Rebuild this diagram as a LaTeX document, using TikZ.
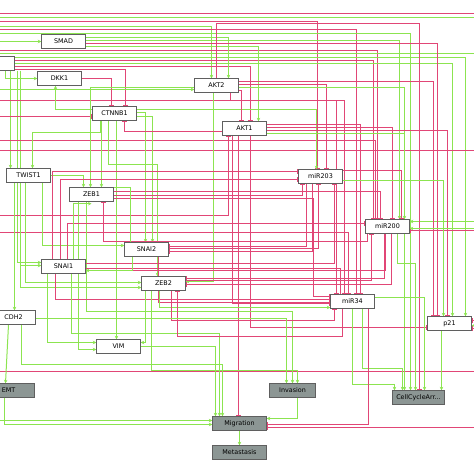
\documentclass[tikz,border=0pt]{standalone}
\usepackage{fontspec}
\setmainfont{DejaVu Sans}
\usetikzlibrary{arrows.meta,positioning,backgrounds}
\definecolor{actgreen}{RGB}{140,228,80}
\definecolor{inhred}{RGB}{225,70,118}
\definecolor{outgray}{RGB}{140,150,148}
\definecolor{boxline}{RGB}{95,95,95}

\begin{document}
\begin{tikzpicture}[
        x=1pt, y=-1pt, shift={(0.5,0.5)},
        gene/.style={rectangle, draw=boxline, fill=white, minimum width=44pt, minimum height=14pt, inner sep=0pt, font=\fontsize{6.4}{7}\selectfont},
        outcome/.style={gene, fill=outgray},
        act/.style={draw=actgreen, line width=1pt, -{Stealth[length=3.5pt,width=3.5pt]}},
        inh/.style={draw=inhred, line width=1pt, -{Bar[width=4.5pt,line width=1.5pt]}}
    ]
    \useasboundingbox (-0.5,-0.5) rectangle (473.5,473.5);

    % genes
    \node[gene] (ecm) at (-8,63) {};
    \node[gene] (smad) at (63,41) {SMAD};
    \node[gene] (dkk1) at (59,78) {DKK1};
    \node[gene] (ctnnb1) at (114,113) {CTNNB1};
    \node[gene] (akt2) at (216,85) {AKT2};
    \node[gene] (akt1) at (244,128) {AKT1};
    \node[gene] (twist1) at (28,175) {TWIST1};
    \node[gene] (zeb1) at (91,194) {ZEB1};
    \node[gene] (mir203) at (320,176) {miR203};
    \node[gene] (mir200) at (387,226) {miR200};
    \node[gene] (snai2) at (146,249) {SNAI2};
    \node[gene] (snai1) at (63,266) {SNAI1};
    \node[gene] (zeb2) at (163,283) {ZEB2};
    \node[gene] (mir34) at (352,301) {miR34};
    \node[gene] (p21) at (449,323) {p21};
    \node[gene] (cdh2) at (13,317) {CDH2};
    \node[gene] (vim) at (118,346) {VIM};

    % outputs
    \node[outcome, minimum width=52pt] (emt) at (8,390) {EMT};
    \node[outcome, minimum width=46pt] (invasion) at (292,390) {Invasion};
    \node[outcome, minimum width=54pt] (migration) at (239,423) {Migration};
    \node[outcome, minimum width=54pt] (metastasis) at (239,452) {Metastasis};
    \node[outcome, minimum width=52pt] (cca) at (418,397) {CellCycleArr...};

    \begin{scope}[on background layer]
        % long lines from the left source
        \draw[inh] ([xshift=-12pt]ecm.north) |- (0,13) -- (490,13) |- ([yshift=3pt]p21.east);
        \draw[act] ([xshift=-10pt]ecm.north) |- (0,17) -- (490,17) |- ([yshift=-2pt]p21.east);
        \draw[inh] ([xshift=-8pt]ecm.north) |- (0,21) -| ([xshift=-3pt]mir203.north);
        \draw[act] ([xshift=-6pt]ecm.north) |- (0,26) -| ([xshift=-5pt]akt2.north);
        \draw[inh] ([xshift=-4pt]ecm.north) |- (0,29) -| ([xshift=4pt]mir34.north);
        \draw[act] ([xshift=-2pt]ecm.north) |- (0,33) -| ([xshift=-8pt]cca.north);
        \draw[inh] (ecm.north) |- (0,50) -| ([xshift=-10pt]mir200.north);
        \draw[act] ([xshift=2pt]ecm.north) |- (0,53) -- (490,53) |- ([yshift=5pt]mir200.east);
        \draw[act] ([xshift=4pt]ecm.north) |- (smad.west);
        \draw[act] ([yshift=6pt]ecm.east) -| ([xshift=16pt]p21.north);
        \draw[inh] ([yshift=3pt]ecm.east) -| ([xshift=-14pt]mir200.north);
        \draw[act] (ecm.east) -| ([xshift=3pt]p21.north);
        \draw[inh] ([yshift=-3pt]ecm.east) -| ([xshift=6pt]akt1.north);
        \draw[inh] ([yshift=-6pt]ecm.east) -| ([xshift=11pt]ctnnb1.north);
        \draw[act] ([xshift=13pt]ecm.south) |- (dkk1.west);
        \draw[act] ([xshift=18pt]ecm.south) -- ([xshift=-18pt]twist1.north);
        \draw[act] ([xshift=25pt]ecm.south) |- ([yshift=4pt]snai1.west);
        \draw[act] ([xshift=28pt]ecm.south) |- ([yshift=-4pt]zeb2.west);
        \draw[inh] ([xshift=-6pt]ecm.south) |- ([yshift=-3pt]ctnnb1.west);
        \draw[inh] ([xshift=-8pt]ecm.south) |- (0,100) -| ([xshift=-16pt]mir34.north);
        \draw[inh] ([xshift=-9pt]ecm.south) |- (0,140) -| ([xshift=-12pt]mir200.south);
        \draw[inh] ([xshift=-7pt]ecm.south) |- (0,150) -- (490,150) |- ([yshift=-4pt]mir200.east);
        \draw[act] ([xshift=-10pt]ecm.south) |- ([yshift=-4pt]akt2.west);
        \draw[inh] ([xshift=-11pt]ecm.south) |- (0,215) -| ([xshift=-16pt]akt1.south);
        \draw[inh] ([xshift=-13pt]ecm.south) |- (0,232) -| ([xshift=-4pt]mir34.north);
        \draw[inh] ([xshift=-14pt]ecm.south) |- (490,371) |- ([yshift=-5pt]p21.east);
        \draw[act] ([xshift=-16pt]ecm.south) |- ([yshift=3pt]migration.west);
        % SMAD
        \draw[act] ([yshift=4pt]smad.east) -| ([xshift=12pt]akt2.north);
        \draw[act] ([yshift=1pt]smad.east) -| ([xshift=12pt]mir200.north);
        \draw[inh] ([yshift=-2pt]smad.east) -| ([xshift=-12pt]p21.north);
        \draw[act] ([yshift=-5pt]smad.east) -| ([xshift=14pt]akt1.north);
        % DKK1 / CTNNB1
        \draw[inh] (dkk1.east) -| ([xshift=-3pt]ctnnb1.north);
        \draw[act] ([yshift=4pt]ctnnb1.west) -| ([xshift=-4pt]dkk1.south);
        \draw[act] ([yshift=1pt]ctnnb1.east) -| ([xshift=-1pt]snai2.north);
        \draw[act] ([yshift=-3pt]ctnnb1.east) -| ([xshift=6pt]snai2.north);
        \draw[act] ([yshift=4pt]ctnnb1.east) -| ([xshift=-4pt]mir203.north);
        \draw[act] ([xshift=-14pt]ctnnb1.south) -- ++(0,12) -| ([xshift=4pt]twist1.north);
        \draw[act] ([xshift=-13pt]ctnnb1.south) -- ([xshift=10pt]zeb1.north);
        \draw[act] ([xshift=2pt]ctnnb1.south) -- ([xshift=-2pt]vim.north);
        \draw[act] ([xshift=-6pt]ctnnb1.south) -- ++(0,44) -| ([xshift=-6pt]zeb2.north);
        % AKT2 / AKT1
        \draw[inh] (akt2.north) -- ++(0,-55) -| ([xshift=1pt]cca.north);
        \draw[inh] ([yshift=4pt]akt2.east) -| ([xshift=-16pt]p21.north);
        \draw[inh] ([yshift=1pt]akt2.east) -| ([xshift=6pt]mir203.north);
        \draw[act] ([yshift=-2pt]akt2.east) -| ([xshift=17pt]mir200.north);
        \draw[inh] ([yshift=-5pt]akt2.east) -| ([xshift=-3pt]akt1.north);
        \draw[act] ([yshift=-2pt]akt2.west) -| ([xshift=-1pt]zeb1.north);
        \draw[inh] ([xshift=14pt]akt2.south) -- ++(0,8) -| ([xshift=-8pt]mir34.north);
        \draw[act] ([xshift=-3pt]akt2.south) |- ([yshift=2pt]zeb2.east);
        \draw[inh] ([yshift=-3pt]akt1.west) -| ([xshift=10pt]ctnnb1.south);
        \draw[inh] ([yshift=4pt]akt1.east) -| ([xshift=8pt]mir34.north);
        \draw[inh] ([yshift=1pt]akt1.east) -| ([xshift=5pt]mir200.north);
        \draw[inh] ([yshift=-2pt]akt1.east) -| ([xshift=-2pt]p21.north);
        \draw[act] ([yshift=-5pt]akt1.east) -| ([xshift=-14pt]cca.north);
        \draw[inh] ([xshift=-6pt]akt1.south) -- ([xshift=-1pt]migration.north);
        \draw[inh] ([xshift=6pt]akt1.south) |- ([yshift=-4pt]p21.west);
        \draw[inh] ([xshift=-12pt]akt1.south) |- ([yshift=-2pt]mir34.west);
        % TWIST1
        \draw[act] (twist1.east) -| ([xshift=-8pt]zeb1.north);
        \draw[act] ([xshift=-14pt]twist1.south) -- ([xshift=1pt]cdh2.north);
        \draw[act] ([xshift=-8pt]twist1.south) |- ([yshift=1pt]snai1.west);
        \draw[act] ([xshift=-3pt]twist1.south) |- ([yshift=1pt]zeb2.west);
        \draw[act] ([xshift=14pt]twist1.south) |- ([yshift=4pt]snai2.west);
        % ZEB1
        \draw[inh] ([yshift=3pt]zeb1.east) -| ([xshift=-7pt]mir200.north);
        \draw[inh] ([yshift=-1pt]zeb1.east) -| ([xshift=-18pt]mir203.south);
        \draw[inh] ([yshift=-4pt]zeb1.east) -- ++(200,0) |- ([yshift=5pt]mir34.west);
        \draw[act] ([xshift=-13pt]zeb1.south) |- ([yshift=-3pt]vim.west);
        \draw[act] ([xshift=-5pt]zeb1.south) -- ++(0,110) -| (invasion.north);
        \draw[inh] ([xshift=-20pt]mir200.south) -- ++(0,8) -| ([xshift=12pt]zeb1.south);
        % miR203 / miR200
        \draw[inh] ([yshift=3pt]snai1.east) -| ([xshift=14pt]mir203.south);
        \draw[inh] ([xshift=-14pt]mir203.south) |- ([yshift=3pt]snai2.east);
        \draw[inh] ([xshift=-8pt]mir203.south) |- ([yshift=-2pt]snai2.east);
        \draw[inh] ([xshift=-3pt]mir200.south) |- ([yshift=5pt]zeb2.east);
        \draw[inh] ([xshift=4pt]mir200.south) |- ([yshift=-1pt]zeb2.east);
        \draw[inh] ([yshift=1pt]snai2.east) -| ([xshift=-2pt]mir203.south);
        \draw[inh] ([yshift=3pt]zeb2.east) -| ([xshift=-16pt]mir200.south);
        \draw[act] ([yshift=-2pt]p21.east) -- ++(8,0) |- ([yshift=-2pt]mir200.east);
        \draw[act] ([xshift=10pt]mir200.south) -- ++(0,30) -| ([xshift=-3pt]cca.north);
        \draw[inh] ([yshift=6pt]mir203.east) -| ([xshift=14pt]mir200.north);
        \draw[act] ([yshift=-4pt]mir203.east) -| ([xshift=-6pt]p21.north);
        % SNAI1 / SNAI2 / ZEB2
        \draw[inh] ([xshift=-11pt]snai1.north) |- ([yshift=5pt]mir203.west);
        \draw[inh] ([xshift=-3pt]snai1.north) |- ([yshift=-3pt]mir203.west);
        \draw[inh] ([xshift=4pt]snai1.north) |- ([yshift=3pt]mir200.west);
        \draw[act] ([xshift=10pt]snai1.north) |- ([yshift=-2pt]zeb1.south);
        \draw[inh] ([yshift=-2pt]snai1.east) -| ([xshift=-12pt]mir34.south);
        \draw[inh] ([xshift=-8pt]snai1.south) |- ([yshift=2pt]mir34.west);
        \draw[act] ([xshift=-16pt]snai1.south) |- ([yshift=4pt]vim.west);
        \draw[act] ([xshift=8pt]snai1.south) -- ++(0,60) -| ([xshift=-20pt]migration.north);
        \draw[inh] ([yshift=-4pt]snai1.east) -- ++(300,0) |- ([yshift=-3pt]mir200.west);
        \draw[act] ([xshift=-14pt]snai2.south) |- ([yshift=-4pt]snai1.east);
        \draw[inh] ([xshift=12pt]snai2.south) |- ([yshift=-1pt]mir34.west);
        \draw[act] ([xshift=-16pt]snai2.north) -- ++(0,-55) -| ([xshift=-8pt]zeb1.south);
        \draw[act] ([xshift=-4pt]zeb2.south) |- ([yshift=-6pt]mir34.west);
        \draw[act] ([xshift=-12pt]zeb2.south) -- ++(0,80) -| ([xshift=5pt]invasion.north);
        \draw[inh] ([xshift=8pt]zeb2.south) -- ++(0,30) -| ([xshift=-18pt]mir34.south);
        \draw[act] ([xshift=-18pt]zeb2.south) |- ([yshift=4pt]vim.east);
        % miR34 / p21
        \draw[inh] ([xshift=-10pt]mir34.south) -- ++(0,28) -| ([xshift=14pt]zeb2.south);
        \draw[act] (mir34.south) -- ++(0,76) -| ([xshift=-24pt]cca.north);
        \draw[act] ([xshift=10pt]mir34.south) -- ++(0,60) -| ([xshift=-16pt]cca.north);
        \draw[inh] ([xshift=16pt]mir34.south) |- ([yshift=-1pt]migration.east);
        \draw[act] ([xshift=-8pt]p21.south) -- ([xshift=23pt]cca.north);
        \draw[inh] ([yshift=-5pt]p21.east) -- ++(12,0) |- ([yshift=-4pt]migration.east);
        \draw[act] ([yshift=4pt]mir34.east) -| ([xshift=6pt]cca.north);
        % markers and outputs
        \draw[act] ([xshift=-5pt]cdh2.south) -- ([xshift=-3pt]emt.north);
        \draw[act] ([yshift=-1pt]cdh2.east) -| ([xshift=-6pt]invasion.north);
        \draw[act] ([xshift=8pt]cdh2.south) -- ++(0,40) -| ([xshift=-17pt]migration.north);
        \draw[act] (vim.east) -| ([xshift=-24pt]migration.north);
        \draw[act] ([xshift=-4pt]emt.south) |- ([yshift=-1pt]migration.west);
        \draw[act] ([xshift=5pt]invasion.south) |- ([yshift=5pt]migration.east);
        \draw[act] (migration.south) -- (metastasis.north);
    \end{scope}
\end{tikzpicture}
\end{document}
